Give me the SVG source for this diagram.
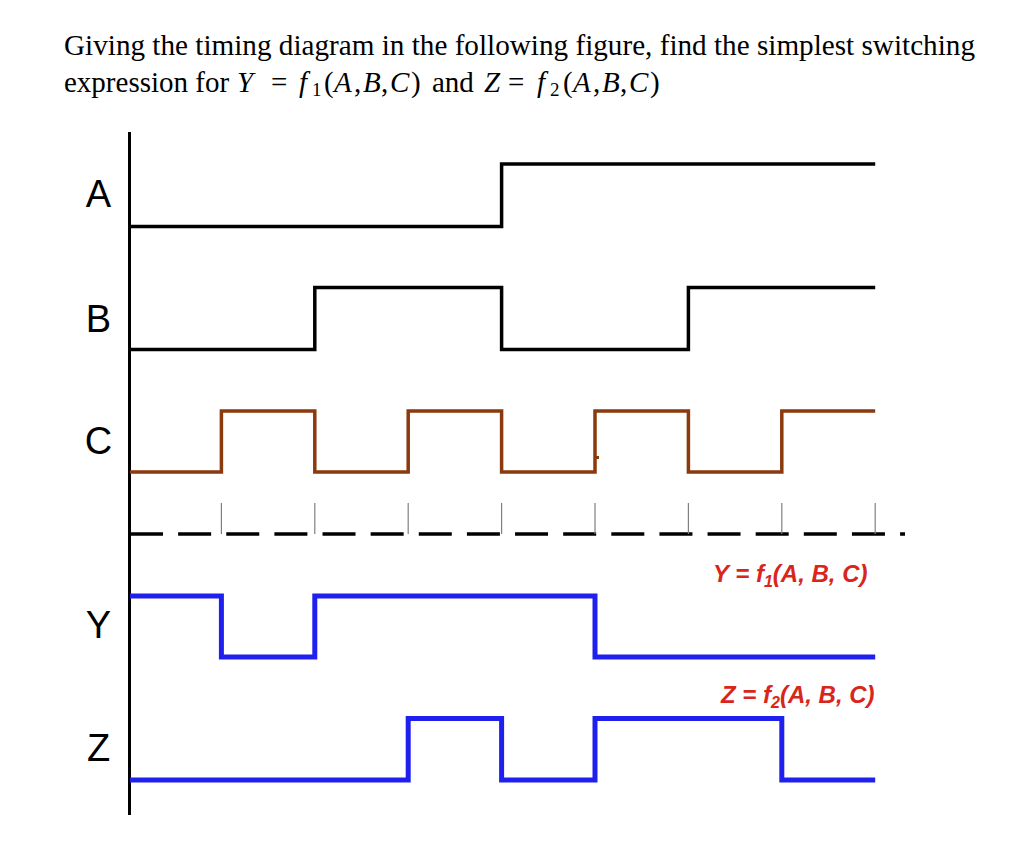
<svg xmlns="http://www.w3.org/2000/svg" width="1024" height="855" viewBox="0 0 1024 855">
<style>
.title{font-family:"Liberation Serif","Times New Roman",serif;font-size:29px;fill:#000}
.mi{font-style:italic}
.sub{font-size:19px;font-style:normal}
.lab{font-family:"Liberation Sans",Arial,sans-serif;font-size:38px;fill:#000;text-anchor:middle}
.red{font-family:"Liberation Sans",Arial,sans-serif;font-size:24px;font-weight:bold;font-style:italic;fill:#D8261C}
.redsub{font-size:16px}
.blk{fill:none;stroke:#000;stroke-width:3.5}
.brn{fill:none;stroke:#8B3A0E;stroke-width:3.5}
.blu{fill:none;stroke:#2020EE;stroke-width:5}
.tick{stroke:#808080;stroke-width:1.2}
</style>
<rect width="1024" height="855" fill="#fff"/>
<g id="title">
<text class="title" x="64" y="55" textLength="911" lengthAdjust="spacingAndGlyphs">Giving the timing diagram in the following figure, find the simplest switching</text>
<text class="title" x="64" y="92">expression for <tspan class="mi" x="237">Y</tspan><tspan x="271">=</tspan><tspan class="mi" x="299">f</tspan><tspan class="sub" x="312" dy="4">1</tspan><tspan dy="-4" x="324">(</tspan><tspan class="mi" x="334">A</tspan><tspan x="354">,</tspan><tspan class="mi" x="363">B</tspan><tspan x="381">,</tspan><tspan class="mi" x="390">C</tspan><tspan x="411">)</tspan><tspan x="432">and</tspan><tspan class="mi" x="484">Z</tspan><tspan x="508">=</tspan><tspan class="mi" x="537">f</tspan><tspan class="sub" x="550" dy="4">2</tspan><tspan dy="-4" x="563">(</tspan><tspan class="mi" x="573">A</tspan><tspan x="593">,</tspan><tspan class="mi" x="602">B</tspan><tspan x="620">,</tspan><tspan class="mi" x="629">C</tspan><tspan x="650">)</tspan></text>
</g>
<g id="labels">
<text class="lab" x="98.5" y="207">A</text>
<text class="lab" x="98.5" y="332">B</text>
<text class="lab" x="98.5" y="454">C</text>
<text class="lab" x="98.5" y="638">Y</text>
<text class="lab" x="98.5" y="761">Z</text>
</g>
<g id="axis">
<line x1="129.5" y1="132" x2="129.5" y2="815" stroke="#000" stroke-width="3"/>
</g>
<g id="separator">
<line x1="130" y1="534" x2="905" y2="534" stroke="#000" stroke-width="3.5" stroke-dasharray="33 15.13"/>
<line class="tick" x1="221.4" y1="503" x2="221.4" y2="534"/>
<line class="tick" x1="314.8" y1="503" x2="314.8" y2="534"/>
<line class="tick" x1="408.2" y1="503" x2="408.2" y2="534"/>
<line class="tick" x1="501.6" y1="503" x2="501.6" y2="534"/>
<line class="tick" x1="595" y1="503" x2="595" y2="534"/>
<line class="tick" x1="688.4" y1="503" x2="688.4" y2="534"/>
<line class="tick" x1="781.8" y1="503" x2="781.8" y2="534"/>
<line class="tick" x1="875.2" y1="503" x2="875.2" y2="534"/>
</g>
<g id="wave-A"><path class="blk" d="M130 226.5H501.6V164H875.2"/></g>
<g id="wave-B"><path class="blk" d="M130 349.5H314.8V287.5H501.6V349.5H688.4V287.5H875.2"/></g>
<g id="wave-C"><path class="brn" d="M130 472H221.4V411H314.8V472H408.2V411H501.6V472H595V411H688.4V472H781.8V411H875.2"/>
<rect x="595" y="456" width="4" height="3" fill="#8B3A0E"/></g>
<g id="wave-Y"><path class="blu" d="M130 596H221.4V657H314.8V596H595V657H875.2"/></g>
<g id="wave-Z"><path class="blu" d="M130 780H408.2V718.5H501.6V780H595V718.5H781.8V780H875.2"/></g>
<g id="func-labels">
<text class="red" x="713" y="582">Y = f<tspan class="redsub" dy="5">1</tspan><tspan dy="-5">(A, B, C)</tspan></text>
<text class="red" x="721" y="703">Z = f<tspan class="redsub" dy="5">2</tspan><tspan dy="-5">(A, B, C)</tspan></text>
</g>
</svg>
